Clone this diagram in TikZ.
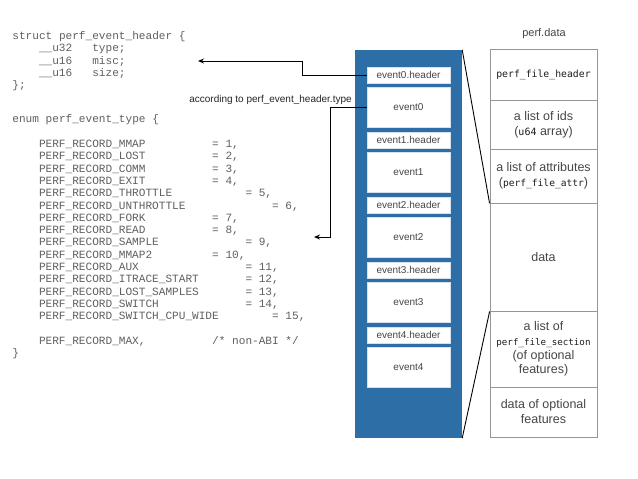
\documentclass[tikz,border=0pt]{standalone}
\usepackage{fontspec}
\setmainfont{Liberation Sans}
\setmonofont{Liberation Mono}
\newfontfamily\menlo{DejaVu Sans Mono}
\usetikzlibrary{arrows.meta}
\definecolor{pblue}{RGB}{46,110,166}
\definecolor{codegray}{RGB}{95,95,95}
\definecolor{txtgray}{RGB}{70,70,70}
\definecolor{boxgray}{RGB}{150,150,150}
\definecolor{monoblack}{RGB}{30,30,30}
\begin{document}
\begin{tikzpicture}[x=1pt,y=-1pt,
  code/.style={anchor=base west, inner sep=0pt, font=\ttfamily\fontsize{11.1}{12}\selectfont, text=codegray},
  evhead/.style={draw=white!80!pblue, fill=white, minimum width=83pt, minimum height=16pt, inner sep=0pt, font=\fontsize{10}{12}\selectfont, text=txtgray},
  evbody/.style={evhead, minimum height=40pt},
  filebox/.style={draw=boxgray, line width=0.8pt, fill=white, minimum width=107pt, inner sep=0pt, align=center, text=txtgray, font=\fontsize{12.5}{15}\selectfont},
  arr/.style={-{Stealth[length=6pt,width=5pt]}, line width=1pt, black},
  diag/.style={line width=0.9pt, black},
  ]
\useasboundingbox (0,0) rectangle (638,479);
\fill[white] (0,0) rectangle (638,479);

% struct block
\node[code] (s0) at (12.2,39.5) {struct perf\_event\_header \{};
\node[code] (s1a) at (38.8,51.75) {\_\_u32};
\node[code] (s1b) at (92.1,51.75) {type;};
\node[code] (s2a) at (38.8,64) {\_\_u16};
\node[code] (s2b) at (92.1,64) {misc;};
\node[code] (s3a) at (38.8,76.25) {\_\_u16};
\node[code] (s3b) at (92.1,76.25) {size;};
\node[code] (s4) at (12.2,88.5) {\};};

% enum block
\node[code] (en) at (12.2,122.5) {enum perf\_event\_type \{};
\foreach \nm/\cl/\vl [count=\i from 0] in {
  MMAP/30/{= 1,}, LOST/30/{= 2,}, COMM/30/{= 3,}, EXIT/30/{= 4,},
  THROTTLE/35/{= 5,}, UNTHROTTLE/39/{= 6,}, FORK/30/{= 7,}, READ/30/{= 8,},
  SAMPLE/35/{= 9,}, MMAP2/30/{= 10,}, AUX/35/{= 11,}, ITRACE\_START/35/{= 12,},
  LOST\_SAMPLES/35/{= 13,}, SWITCH/35/{= 14,}, SWITCH\_CPU\_WIDE/39/{= 15,}} {
  \node[code] (n\i) at (38.8,147.5+12.3*\i) {PERF\_RECORD\_\nm};
  \node[code] (v\i) at (12.2+6.66*\cl,147.5+12.3*\i) {\vl};
}
\node[code] (mx) at (38.8,344.3) {PERF\_RECORD\_MAX,};
\node[code] (mxc) at (12.2+6.66*30,344.3) {/* non-ABI */};
\node[code] (eend) at (12.2,356.8) {\}};

% blue file stream
\node[fill=pblue, minimum width=107pt, minimum height=388pt, inner sep=0pt] (blue) at (408.5,244) {};
\foreach \k in {0,...,4} {
  \node[evhead] (h\k) at (408.5,75+65*\k) {event\k.header};
  \node[evbody] (e\k) at (408.5,107+65*\k) {event\k};
}

% perf.data column
\node[font=\fontsize{11}{13}\selectfont, text=txtgray] (title) at (544,34) {perf.data};
\node[filebox, minimum height=51pt] (fh) at (543.5,74.5) {{\menlo\fontsize{9.8}{12}\selectfont\color{monoblack} perf\_file\_header}};
\node[filebox, minimum height=49pt] (ids) at (543.5,124.5) {a list of ids\\({\menlo\fontsize{10}{12}\selectfont\color{monoblack} u64} array)};
\node[filebox, minimum height=54pt] (attr) at (543.5,176) {a list of attributes\\({\menlo\fontsize{9.6}{12}\selectfont\color{monoblack} perf\_file\_attr})};
\node[filebox, minimum height=108pt] (data) at (543.5,257) {data};
\node[filebox, minimum height=76pt, font=\fontsize{12.5}{14.4}\selectfont] (sect) at (543.5,349) {a list of\\{\menlo\fontsize{9.2}{12}\selectfont\color{monoblack} perf\_file\_section}\\(of optional\\features)};
\node[filebox, minimum height=50pt] (opt) at (543.5,412) {data of optional\\features};

\draw[diag] (blue.north east) -- (attr.south west);
\draw[diag] (data.south west) -- (blue.south east);

% arrows
\coordinate (b1) at (302,61);
\coordinate (t1) at (198,61);
\draw[arr] (h0.west) -| (b1) -- (t1);
\coordinate (b2) at (330,237);
\coordinate (t2) at (314,237);
\draw[arr] (e0.west) -| (b2) -- (t2);
\node[font=\fontsize{10}{12}\selectfont, text=black!85] (lbl) at (270.5,100) {according to perf\_event\_header.type};
\end{tikzpicture}
\end{document}
